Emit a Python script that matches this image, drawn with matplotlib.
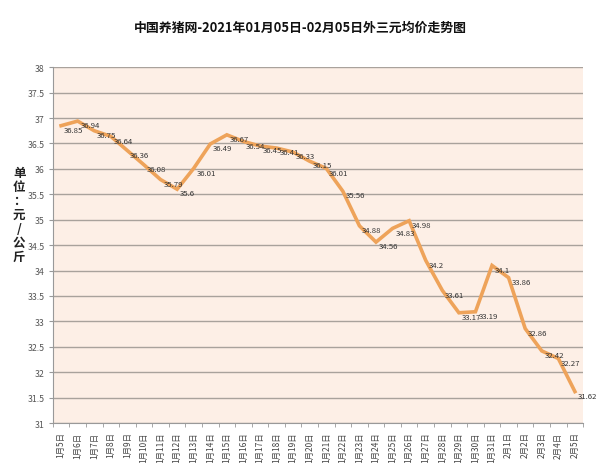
import matplotlib.pyplot as plt
import numpy as np

plt.rcParams['font.family'] = ['Noto Sans CJK SC', 'DejaVu Sans']

dates = [f'1月{d}日' for d in range(5, 32)] + [f'2月{d}日' for d in range(1, 6)]
prices = [36.85, 36.94, 36.75, 36.64, 36.36, 36.08, 35.79, 35.6, 36.01, 36.49,
          36.67, 36.54, 36.45, 36.41, 36.33, 36.15, 36.01, 35.56, 34.88, 34.56,
          34.83, 34.98, 34.2, 33.61, 33.17, 33.19, 34.1, 33.86, 32.86, 32.42,
          32.27, 31.62]
title = '中国养猪网-2021年01月05日-02月05日外三元均价走势图'

fig = plt.figure(figsize=(6, 4.64), dpi=100)
ax = fig.add_axes([0.088, 0.086, 0.884, 0.767])
ax.set_facecolor('#fdefe6')

x = np.arange(len(prices))
ax.plot(x, prices, color='#eea35a', lw=2.6, solid_joinstyle='miter', zorder=3)
for xi, v in zip(x, prices):
    ax.annotate(f'{v:g}', (xi, v), xytext=(2, -3), textcoords='offset points',
                ha='left', va='center', fontsize=5.6, color='#333333', zorder=4)

ax.set_xlim(-0.5, len(prices) - 0.5)
ax.set_ylim(31, 38)
ax.set_yticks(np.arange(31, 38.01, 0.5))
ax.set_yticklabels([f'{t:g}' for t in np.arange(31, 38.01, 0.5)], fontsize=6.3, color='#555555')
ax.set_xticks(x)
ax.set_xticklabels(dates, rotation=90, fontsize=6, color='#444444')
ax.set_xticks(np.arange(-0.5, len(prices), 1), minor=True)
ax.tick_params(axis='x', which='major', length=0, pad=6)
ax.tick_params(axis='x', which='minor', length=3, color='#999999')
ax.tick_params(axis='y', length=3, color='#999999', pad=3)
ax.grid(axis='y', color='#a9a29c', lw=1.0)
ax.set_axisbelow(True)
for s in ['top', 'right']:
    ax.spines[s].set_visible(False)
for s in ['left', 'bottom']:
    ax.spines[s].set_color('#999999')

fig.text(0.5, 0.94, title, ha='center', va='center', fontsize=9.3,
         fontweight='bold', color='#111111')
fig.text(0.032, 0.535, '\n'.join('单位：元/公斤'), ha='center', va='center',
         fontsize=9, fontweight='bold', linespacing=1.1, color='#222222')

fig.savefig('out.png', dpi=100, facecolor='white')
